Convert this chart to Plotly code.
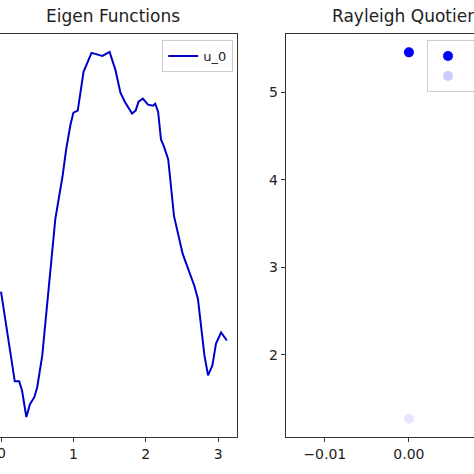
import plotly.graph_objects as go
from plotly.subplots import make_subplots

# eigen function u_0
u0_x = [0.0, 0.08, 0.19, 0.25, 0.29, 0.35, 0.40, 0.46, 0.50, 0.57, 0.64, 0.69, 0.75,
        0.85, 0.90, 0.96, 1.0, 1.06, 1.14, 1.25, 1.40, 1.50, 1.58, 1.65, 1.71, 1.81,
        1.86, 1.90, 1.96, 2.03, 2.10, 2.13, 2.17, 2.21, 2.25, 2.31, 2.39, 2.51, 2.60,
        2.67, 2.72, 2.81, 2.86, 2.92, 2.97, 3.04, 3.12]
u0_y = [1.44, 1.04, 0.54, 0.54, 0.45, 0.18, 0.31, 0.38, 0.48, 0.80, 1.34, 1.77, 2.17,
        2.60, 2.87, 3.12, 3.24, 3.26, 3.65, 3.84, 3.81, 3.85, 3.67, 3.44, 3.35, 3.23,
        3.26, 3.35, 3.38, 3.32, 3.31, 3.33, 3.25, 2.97, 2.90, 2.77, 2.20, 1.82, 1.64,
        1.50, 1.37, 0.80, 0.60, 0.70, 0.92, 1.03, 0.95]

# rayleigh quotients
rq_x = [0.0]
rq_y = [5.46]
ev_x = [0.0]
ev_y = [1.27]

pad = "\u00a0" * 4  # legend labels run past the right edge in the reference

fig = make_subplots(rows=1, cols=2, horizontal_spacing=0.1)

fig.add_trace(go.Scatter(x=u0_x, y=u0_y, mode="lines", name="u_0", showlegend=True,
                         line=dict(color="#0000cc", width=2), legend="legend"), row=1, col=1)
fig.add_trace(go.Scatter(x=rq_x, y=rq_y, mode="markers", name=pad + "Rayleigh Quotient",
                         showlegend=True, marker=dict(color="#0000ff", size=10),
                         legend="legend2"), row=1, col=2)
fig.add_trace(go.Scatter(x=ev_x, y=ev_y, mode="markers", name=pad + "Eigenvalue",
                         showlegend=True, marker=dict(color="#0000ff", size=10, opacity=0.1),
                         legend="legend2"), row=1, col=2)

axfont = dict(family="DejaVu Sans", size=14, color="#222")
fig.update_xaxes(showgrid=False, zeroline=False, showline=True, linecolor="#333",
                 mirror=True, ticks="outside", ticklen=4, tickcolor="#333", tickfont=axfont)
fig.update_yaxes(showgrid=False, zeroline=False, showline=True, linecolor="#333",
                 mirror=True, ticks="outside", ticklen=4, tickcolor="#333", tickfont=axfont)
fig.update_xaxes(domain=[0, 0.5], range=[-0.014, 3.26], tickvals=[0, 1, 2, 3],
                 ticktext=["", "1", "2", "3"], row=1, col=1)
fig.update_yaxes(range=[-0.02, 4.03], showticklabels=False, ticks="", row=1, col=1)
fig.update_xaxes(domain=[0.603, 1], range=[-0.01464, 0.00774], tickvals=[-0.01, 0.0],
                 ticktext=["\u22120.01", "0.00"], row=1, col=2)
fig.update_yaxes(range=[1.06, 5.67], tickvals=[2, 3, 4, 5], row=1, col=2)

# the "0" tick label of the left plot sits on the page edge
fig.add_annotation(text="0", xref="x", yref="paper", x=0, y=0, yshift=-6,
                   xanchor="center", yanchor="top", showarrow=False, font=axfont)

titlefont = dict(family="DejaVu Sans", size=17, color="#222")
fig.add_annotation(text="Eigen Functions", xref="paper", yref="paper", x=113 / 474, y=1,
                   xanchor="center", yshift=6, yanchor="bottom", showarrow=False,
                   font=titlefont)
fig.add_annotation(text="Rayleigh Quotient", xref="x2", yref="paper", x=0.0, y=1,
                   xanchor="center", yshift=6, yanchor="bottom", showarrow=False,
                   font=titlefont)

legstyle = dict(bgcolor="white", bordercolor="#ccc", borderwidth=1,
                font=dict(family="DejaVu Sans", size=13, color="#222"))
fig.update_layout(
    width=474, height=474, showlegend=True,
    margin=dict(l=0, r=0, t=34, b=37, autoexpand=False),
    plot_bgcolor="white", paper_bgcolor="white",
    legend=dict(x=0.492, xanchor="right", y=0.985, yanchor="top", **legstyle),
    legend2=dict(x=427 / 474, xanchor="left", y=0.985, yanchor="top", **legstyle),
)

fig.write_html("out.html", config={"displayModeBar": False},
               post_script="document.body.style.margin='0';")
